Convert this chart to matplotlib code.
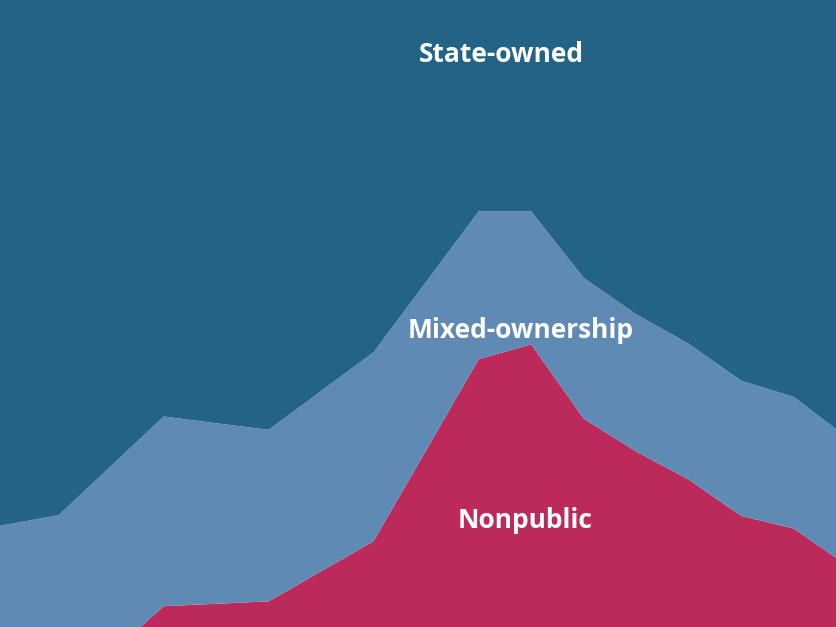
import numpy as np
import matplotlib.pyplot as plt

# Share of each ownership type (%), stacked bottom to top
years = [1998, 2000, 2002, 2004, 2006, 2008, 2009, 2010, 2011, 2012, 2013, 2014, 2015]
nonpublic = [0.0, 0.0, 13.4, 14.1, 22.7, 48.7, 50.8, 40.2, 35.5, 31.5, 26.3, 24.5, 19.3]
mixed = [23.7, 26.4, 27.1, 24.5, 27.0, 21.1, 19.0, 20.1, 19.6, 19.4, 19.3, 18.8, 18.3]
state_owned = [76.3, 73.6, 59.5, 61.4, 50.3, 30.2, 30.2, 39.7, 44.9, 49.1, 54.4, 56.7, 62.4]

labels = ["Nonpublic", "Mixed-ownership", "State-owned"]
colors = ["#bc2a5b", "#5f8ab4", "#236386"]

fig = plt.figure(figsize=(8.36, 6.27), dpi=100)
ax = fig.add_axes([0, 0, 1, 1])

ax.stackplot(years, nonpublic, mixed, state_owned, colors=colors, linewidth=0)

# the chart is a crop of a wider view
ax.set_xlim(1998.882, 2014.806)
ax.set_ylim(10.43, 100)
ax.axis("off")

font = dict(family="Open Sans", weight="bold", size=19, color="white",
            ha="center", va="center")
ax.text(2008.44, (700 - 54) / 7, "State-owned", **font)
ax.text(2008.79, (700 - 330) / 7, "Mixed-ownership", **font)
ax.text(2008.88, (700 - 520) / 7, "Nonpublic", **font)

fig.savefig("out.png", dpi=100)
